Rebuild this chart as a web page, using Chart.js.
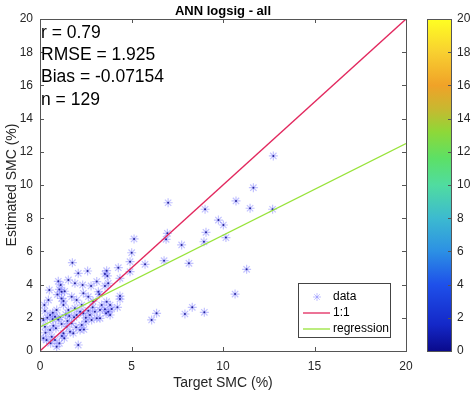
<!DOCTYPE html>
<html>
<head>
<meta charset="utf-8">
<script src="https://cdn.jsdelivr.net/npm/chart.js@4"></script>
<style>
  body { margin: 0; background: #fff; }
  #wrap { position: relative; width: 474px; height: 396px; }
  #main { position: absolute; left: 0; top: 0; }
  #cbar { position: absolute; left: 427px; top: 0; }
</style>
</head>
<body>
<div id="wrap">
  <canvas id="main" width="474" height="396"></canvas>
  <canvas id="cbar" width="47" height="396"></canvas>
</div>
<script>
// ===== data =====
const targetSMC = [
  12.75, 7.0, 11.66, 9.02, 10.71, 11.48, 12.71, 9.75, 10.02, 6.96, 6.89, 9.07, 7.74,
  8.96, 10.16, 5.74, 6.78, 8.14, 11.29, 10.66, 6.37, 6.10, 7.92, 8.32, 8.98,
  5.14, 5.01, 4.92, 4.28, 1.77, 2.6, 3.64, 3.55, 3.68, 4.92, 1.55, 1.91, 1.13, 1.06,
  1.18, 0.51, 2.33, 2.79, 3.55, 4.37, 4.37, 3.19, 3.24, 2.37, 1.73, 1.18, 1.28, 0.24,
  0.27, 1.28, 0.82, 0.55, 0.69, 1.09, 1.6, 1.86, 2.19, 2.37, 2.64, 2.88, 2.73, 3.1,
  3.64, 3.83, 3.55, 3.73, 3.92, 4.23, 3.61, 3.83, 0.18, 0.27, 0.55, 0.73, 0.87, 1.18,
  1.46, 1.73, 1.97, 2.28, 2.19, 2.51, 1.64, 1.28, 0.64, 0.82, 0.36, 0.18, 0.58, 1.06,
  1.33, 2.09, 0.91, 1.82, 2.82, 3.0, 3.28, 3.37, 0.46, 2.0, 2.64, 2.28, 0.91, 1.55,
  1.91, 2.0, 3.28, 3.73, 3.1, 4.37, 2.09,
  0.4, 1.4, 1.0, 0.7, 1.5, 2.5, 0.3, 1.2, 2.4, 0.95, 1.35, 1.0, 2.9
];
const estimatedSMC = [
  11.75, 8.93, 9.84, 8.54, 9.04, 8.6, 8.54, 7.89, 7.59, 7.09, 6.73, 7.15, 6.39,
  6.58, 6.83, 5.22, 5.44, 5.28, 4.92, 3.43, 2.27, 1.87, 2.23, 2.63, 2.33,
  6.75, 5.92, 5.38, 5.02, 5.32, 4.82, 4.84, 4.64, 4.52, 4.78, 4.28, 4.08, 3.98, 3.71,
  3.57, 3.67, 3.98, 3.92, 3.92, 3.31, 3.13, 3.57, 3.42, 3.48, 3.27, 3.17, 3.01, 2.77,
  2.41, 2.77, 2.07, 2.17, 1.91, 2.03, 2.11, 2.03, 2.37, 2.27, 2.43, 2.63, 2.17, 1.97,
  2.97, 2.77, 2.51, 2.37, 2.53, 2.63, 2.27, 2.17, 1.87, 1.46, 1.27, 1.52, 1.37, 1.63,
  1.46, 1.67, 1.43, 1.57, 1.27, 1.77, 1.16, 1.07, 0.86, 0.66, 0.66, 0.77, 0.46, 0.46,
  0.77, 0.36, 0.26, 1.07, 1.87, 2.37, 2.47, 2.77, 3.07, 3.07, 3.27, 2.77, 2.47, 2.47,
  2.57, 2.17, 1.97, 4.08, 4.18, 4.38, 4.68,
  2.0, 2.2, 1.9, 2.3, 1.8, 2.0, 1.1, 0.9, 1.3, 3.4, 3.6, 4.2, 3.0
];
const oneToOneX = [0, 20];
const oneToOneY = [0, 20];
const regressionX = [0, 20];
const regressionY = [1.45, 12.5];
const statsLines = ['r = 0.79', 'RMSE = 1.925', 'Bias = -0.07154', 'n = 129'];
const xTicks = [0, 5, 10, 15, 20];
const yTicks = [0, 2, 4, 6, 8, 10, 12, 14, 16, 18, 20];
const cbarTicks = [0, 2, 4, 6, 8, 10, 12, 14, 16, 18, 20];

const FONT = "'Liberation Sans', Arial, sans-serif";
const TXT = '#262626';
const RED = '#e2285e';
const GREEN = '#98e33a';
const STAR = 'rgba(110,110,255,0.42)';

const toPts = (xs, ys) => xs.map((x, i) => ({ x, y: ys[i] }));

// ===== box, inward ticks, title, stats, legend =====
const decorPlugin = {
  id: 'decor',
  afterDraw(chart) {
    const { ctx, chartArea: a, scales } = chart;
    ctx.save();
    ctx.strokeStyle = '#555';
    ctx.lineWidth = 1;
    ctx.strokeRect(a.left + 0.5, a.top + 0.5, a.right - a.left, a.bottom - a.top);
    ctx.beginPath();
    xTicks.forEach(v => {
      const px = Math.round(scales.x.getPixelForValue(v)) + 0.5;
      ctx.moveTo(px, a.bottom); ctx.lineTo(px, a.bottom - 4);
      ctx.moveTo(px, a.top); ctx.lineTo(px, a.top + 4);
    });
    yTicks.forEach(v => {
      const py = Math.round(scales.y.getPixelForValue(v)) + 0.5;
      ctx.moveTo(a.left, py); ctx.lineTo(a.left + 4, py);
      ctx.moveTo(a.right, py); ctx.lineTo(a.right - 4, py);
    });
    ctx.stroke();

    // title
    ctx.fillStyle = '#000';
    ctx.font = 'bold 13px ' + FONT;
    ctx.textAlign = 'center';
    ctx.textBaseline = 'middle';
    ctx.fillText('ANN logsig - all', (a.left + a.right) / 2, 11);

    // stats
    ctx.font = '17.5px ' + FONT;
    ctx.textAlign = 'left';
    statsLines.forEach((s, i) => {
      ctx.fillText(s, a.left + 1, a.top + 14 + i * 22.3);
    });

    // legend
    const lx = a.right - 108, ly = a.bottom - 68, lw = 92, lh = 54;
    ctx.fillStyle = '#fff';
    ctx.fillRect(lx, ly, lw, lh);
    ctx.strokeStyle = '#444';
    ctx.strokeRect(lx + 0.5, ly + 0.5, lw, lh);
    ctx.font = '12px ' + FONT;
    ctx.fillStyle = '#000';
    const rows = [['data', null], ['1:1', RED], ['regression', GREEN]];
    rows.forEach(([label, col], i) => {
      const cy = ly + 14 + i * 16;
      if (col) {
        ctx.strokeStyle = col;
        ctx.lineWidth = 1.3;
        ctx.beginPath();
        ctx.moveTo(lx + 5, cy); ctx.lineTo(lx + 32, cy);
        ctx.stroke();
      } else {
        ctx.strokeStyle = STAR;
        ctx.lineWidth = 1;
        ctx.beginPath();
        const cx = lx + 19, r = 4;
        for (let k = 0; k < 4; k++) {
          const ang = k * Math.PI / 4;
          ctx.moveTo(cx - r * Math.cos(ang), cy - r * Math.sin(ang));
          ctx.lineTo(cx + r * Math.cos(ang), cy + r * Math.sin(ang));
        }
        ctx.stroke();
      }
      ctx.fillText(label, lx + 35, cy);
    });
    ctx.restore();
  }
};

new Chart(document.getElementById('main'), {
  type: 'scatter',
  data: {
    datasets: [
      {
        label: '1:1',
        type: 'line',
        data: toPts(oneToOneX, oneToOneY),
        borderColor: RED,
        borderWidth: 1.3,
        pointRadius: 0,
        order: 1
      },
      {
        label: 'regression',
        type: 'line',
        data: toPts(regressionX, regressionY),
        borderColor: GREEN,
        borderWidth: 1.3,
        pointRadius: 0,
        order: 0
      },
      {
        label: 'data',
        data: toPts(targetSMC, estimatedSMC),
        pointStyle: 'star',
        pointRadius: 4.5,
        borderColor: STAR,
        backgroundColor: STAR,
        borderWidth: 1.2,
        order: 3
      },
      {
        label: 'data-core',
        data: toPts(targetSMC, estimatedSMC),
        pointStyle: 'circle',
        pointRadius: 1,
        borderWidth: 0,
        backgroundColor: '#22229a',
        order: 2
      }
    ]
  },
  options: {
    responsive: false,
    animation: false,
    layout: { padding: { top: 19, right: 68, left: 0, bottom: 0 } },
    plugins: { legend: { display: false }, tooltip: { enabled: false } },
    scales: {
      x: {
        type: 'linear',
        min: 0,
        max: 20,
        afterBuildTicks: s => { s.ticks = xTicks.map(v => ({ value: v })); },
        afterFit: s => { s.height = 45; },
        grid: { display: false, drawTicks: false },
        border: { display: false },
        ticks: { color: TXT, font: { family: FONT, size: 12 }, padding: 8, maxRotation: 0 },
        title: { display: true, text: 'Target SMC (%)', color: TXT, font: { family: FONT, size: 14 }, padding: { top: 4, bottom: 4 } }
      },
      y: {
        type: 'linear',
        min: 0,
        max: 20,
        afterBuildTicks: s => { s.ticks = yTicks.map(v => ({ value: v })); },
        afterFit: s => { s.width = 40; },
        grid: { display: false, drawTicks: false },
        border: { display: false },
        ticks: { color: TXT, font: { family: FONT, size: 12 }, padding: 7 },
        title: { display: true, text: 'Estimated SMC (%)', color: TXT, font: { family: FONT, size: 14 }, padding: { top: 4, bottom: 4 } }
      }
    }
  },
  plugins: [decorPlugin]
});

// ===== colour bar =====
const cbarPlugin = {
  id: 'cbarFill',
  beforeDatasetsDraw(chart) {
    const { ctx, chartArea: a, scales } = chart;
    const g = ctx.createLinearGradient(0, a.bottom, 0, a.top);
    g.addColorStop(0.0, '#0a0a8c');
    g.addColorStop(0.08, '#1428c8');
    g.addColorStop(0.2, '#1e50ea');
    g.addColorStop(0.3, '#2c90e4');
    g.addColorStop(0.4, '#3cbad0');
    g.addColorStop(0.5, '#50dca0');
    g.addColorStop(0.58, '#5ce066');
    g.addColorStop(0.66, '#8ed838');
    g.addColorStop(0.73, '#c8b830');
    g.addColorStop(0.8, '#f0a228');
    g.addColorStop(0.9, '#f8d030');
    g.addColorStop(1.0, '#ffff22');
    ctx.save();
    ctx.fillStyle = g;
    ctx.fillRect(a.left, a.top, a.right - a.left, a.bottom - a.top);
    ctx.strokeStyle = '#555';
    ctx.lineWidth = 1;
    ctx.strokeRect(a.left + 0.5, a.top + 0.5, a.right - a.left - 1, a.bottom - a.top);
    ctx.beginPath();
    cbarTicks.forEach(v => {
      const py = Math.round(scales.y.getPixelForValue(v)) + 0.5;
      ctx.moveTo(a.right - 1, py); ctx.lineTo(a.right - 4, py);
    });
    ctx.stroke();
    ctx.restore();
  }
};

new Chart(document.getElementById('cbar'), {
  type: 'scatter',
  data: { datasets: [{ data: [] }] },
  options: {
    responsive: false,
    animation: false,
    layout: { padding: { top: 19, bottom: 45, left: 0, right: 0 } },
    plugins: { legend: { display: false }, tooltip: { enabled: false } },
    scales: {
      x: { display: false, min: 0, max: 1 },
      y: {
        position: 'right',
        min: 0,
        max: 20,
        afterBuildTicks: s => { s.ticks = cbarTicks.map(v => ({ value: v })); },
        afterFit: s => { s.width = 22; },
        grid: { display: false, drawTicks: false },
        border: { display: false },
        ticks: { color: TXT, font: { family: FONT, size: 12 }, padding: 5 }
      }
    }
  },
  plugins: [cbarPlugin]
});
</script>
</body>
</html>
